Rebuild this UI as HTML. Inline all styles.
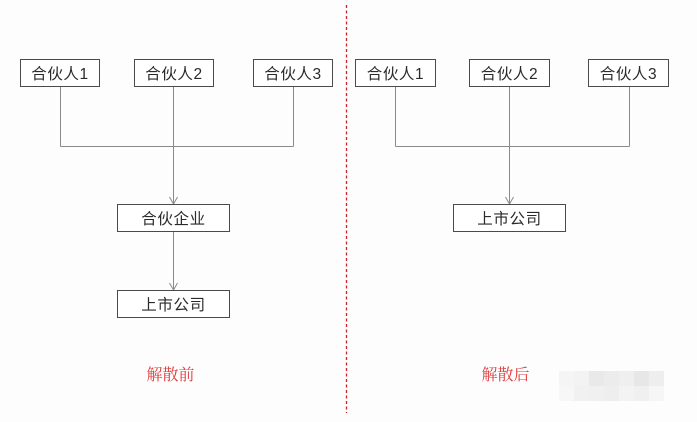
<!DOCTYPE html>
<html>
<head>
<meta charset="utf-8">
<style>
  html,body{margin:0;padding:0;background:#fdfdfd;}
  svg{display:block;}
  .bt{font-family:"Liberation Sans","Noto Sans CJK SC",sans-serif;font-size:15.5px;fill:#2a2a2a;letter-spacing:0.6px;}
  .rt{font-family:"Noto Serif CJK SC","Liberation Serif",serif;font-size:16px;fill:#e03a3a;}
</style>
</head>
<body>
<svg width="697" height="422" viewBox="0 0 697 422" xmlns="http://www.w3.org/2000/svg">
  <rect x="0" y="0" width="697" height="422" fill="#fdfdfd"/>

  <!-- divider -->
  <line x1="346.5" y1="5" x2="346.5" y2="413" stroke="#c8262a" stroke-width="1.3" stroke-dasharray="3,2.5"/>

  <!-- LEFT connectors -->
  <g stroke="#8a8a8a" stroke-width="1" fill="none">
    <line x1="60.5" y1="87" x2="60.5" y2="146.5"/>
    <line x1="293.5" y1="87" x2="293.5" y2="146.5"/>
    <line x1="60.5" y1="146.5" x2="293.5" y2="146.5"/>
    <line x1="173.5" y1="87" x2="173.5" y2="204"/>
    <polyline points="169.5,197 173.5,204 177.5,197"/>
    <line x1="173.5" y1="232" x2="173.5" y2="290"/>
    <polyline points="169.5,283 173.5,290 177.5,283"/>
  </g>

  <!-- RIGHT connectors -->
  <g stroke="#8a8a8a" stroke-width="1" fill="none">
    <line x1="395.5" y1="87" x2="395.5" y2="146.5"/>
    <line x1="629.5" y1="87" x2="629.5" y2="146.5"/>
    <line x1="395.5" y1="146.5" x2="629.5" y2="146.5"/>
    <line x1="509.5" y1="87" x2="509.5" y2="204"/>
    <polyline points="505.5,197 509.5,204 513.5,197"/>
  </g>

  <!-- LEFT boxes -->
  <g fill="#ffffff" stroke="#4a4a4a" stroke-width="1">
    <rect x="20.5" y="59.5" width="79" height="27"/>
    <rect x="134.5" y="59.5" width="79" height="27"/>
    <rect x="253.5" y="59.5" width="79" height="27"/>
    <rect x="117.5" y="204.5" width="112" height="27"/>
    <rect x="117.5" y="290.5" width="112" height="27"/>
  </g>
  <!-- RIGHT boxes -->
  <g fill="#ffffff" stroke="#4a4a4a" stroke-width="1">
    <rect x="355.5" y="59.5" width="80" height="27"/>
    <rect x="469.5" y="59.5" width="80" height="27"/>
    <rect x="588.5" y="59.5" width="80" height="27"/>
    <rect x="453.5" y="204.5" width="112" height="27"/>
  </g>

  <!-- box text -->
  <g class="bt" text-anchor="middle">
    <text x="60" y="79">合伙人1</text>
    <text x="174" y="79">合伙人2</text>
    <text x="293" y="79">合伙人3</text>
    <text x="173.5" y="224">合伙企业</text>
    <text x="173.5" y="310">上市公司</text>
    <text x="395.5" y="79">合伙人1</text>
    <text x="509.5" y="79">合伙人2</text>
    <text x="628.5" y="79">合伙人3</text>
    <text x="509.5" y="224">上市公司</text>
  </g>

  <!-- red labels -->
  <text class="rt" x="170.5" y="380" text-anchor="middle">解散前</text>
  <text class="rt" x="505.5" y="380" text-anchor="middle">解散后</text>

  <!-- mosaic watermark -->
  <g>
    <rect x="559" y="371" width="105" height="30" rx="3" fill="#f2f2f2"/>
    <rect x="559" y="371" width="15" height="15" fill="#f5f5f5"/>
    <rect x="574" y="371" width="15" height="15" fill="#f3f3f3"/>
    <rect x="589" y="371" width="15" height="15" fill="#e9e9e9"/>
    <rect x="604" y="371" width="15" height="15" fill="#ececec"/>
    <rect x="619" y="371" width="15" height="15" fill="#efefef"/>
    <rect x="634" y="371" width="15" height="15" fill="#e7e7e7"/>
    <rect x="649" y="371" width="15" height="15" fill="#eeeeee"/>
    <rect x="559" y="386" width="15" height="15" fill="#f7f7f7"/>
    <rect x="574" y="386" width="15" height="15" fill="#f1f1f1"/>
    <rect x="589" y="386" width="15" height="15" fill="#f0f0f0"/>
    <rect x="604" y="386" width="15" height="15" fill="#eeeeee"/>
    <rect x="619" y="386" width="15" height="15" fill="#f3f3f3"/>
    <rect x="634" y="386" width="15" height="15" fill="#f0f0f0"/>
    <rect x="649" y="386" width="15" height="15" fill="#f6f6f6"/>
  </g>
</svg>
</body>
</html>
